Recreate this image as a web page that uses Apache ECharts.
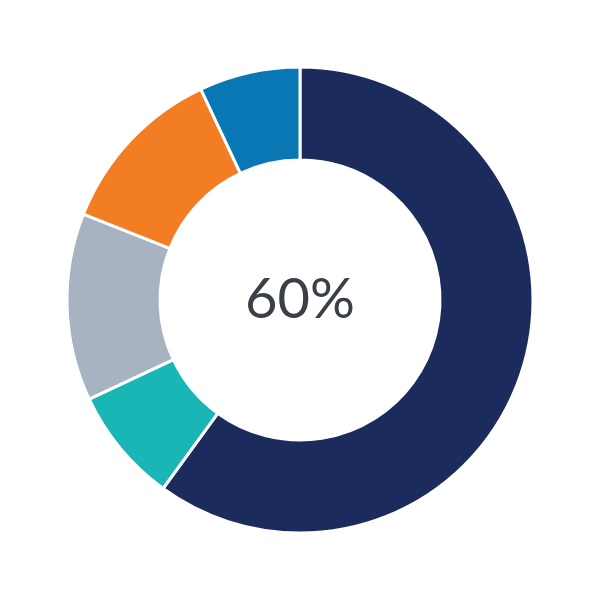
<!DOCTYPE html>
<html><head><meta charset="utf-8">
<script src="https://cdn.jsdelivr.net/npm/echarts@6/dist/echarts.min.js"></script>
<style>html,body{margin:0;padding:0;background:#fff}#c{width:600px;height:600px}</style>
</head><body><div id="c"></div>
<script>
const categories = ['Navy', 'Teal', 'Grey', 'Orange', 'Blue'];
const values = [60, 8, 13, 12, 7];
const colors = ['#1b2b5b', '#1ab5b5', '#a8b3c1', '#f27d22', '#0a77b5'];
const centerLabel = '60%';
const chart = echarts.init(document.getElementById('c'));
chart.setOption({
  animation: false,
  title: {
    text: centerLabel, left: 'center', top: 'middle',
    textStyle: { fontFamily: 'Lato', fontWeight: 'normal', fontSize: 56, color: '#3a3f48' }
  },
  series: [{
    type: 'pie',
    center: [300, 300],
    radius: [140, 233],
    startAngle: 90,
    clockwise: true,
    label: { show: false },
    labelLine: { show: false },
    itemStyle: { borderColor: '#ffffff', borderWidth: 3 },
    data: categories.map((c, i) => ({ name: c, value: values[i], itemStyle: { color: colors[i] } }))
  }]
});
</script></body></html>
